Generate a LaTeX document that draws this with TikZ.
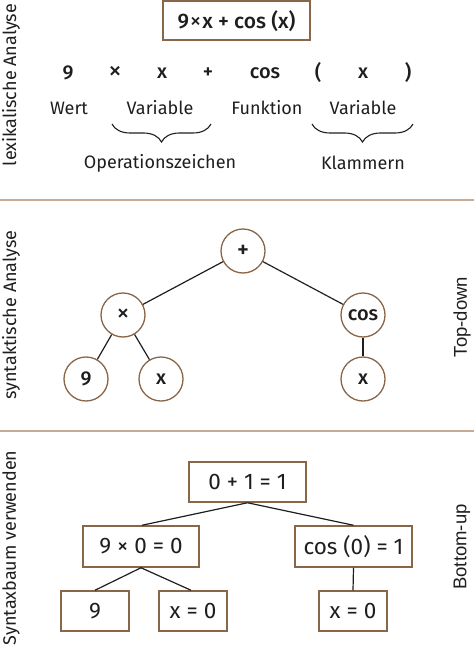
\documentclass[tikz,border=0pt]{standalone}
\usepackage{fontspec}
\setmainfont{Fira Sans}
\newfontfamily\medfont{Fira Sans Medium}
\newfontfamily\arialfont{Liberation Sans}
\newcommand{\mytimes}[1]{{\fontspec{Fira Sans}\fontsize{#1}{#1}\selectfont×}}
\usetikzlibrary{decorations.pathreplacing}
\definecolor{brn}{HTML}{8A6648}
\definecolor{sepc}{HTML}{C9AA93}
\definecolor{txt}{HTML}{1E1E1E}
\tikzset{
  tok/.style={font=\medfont\fontsize{20}{22}\selectfont, text=txt, inner sep=0pt},
  lbl/.style={font=\fontsize{18}{20}\selectfont, text=txt, inner sep=0pt},
  side/.style={font=\fontsize{18}{20}\selectfont, text=txt, rotate=90, inner sep=0pt},
  rside/.style={font=\arialfont\fontsize{18.5}{20}\selectfont, text=txt, rotate=90, inner sep=0pt},
  circ/.style={circle, draw=brn, line width=1.3pt, minimum size=44pt, inner sep=0pt, fill=white, font=\medfont\fontsize{20}{22}\selectfont, text=txt},
  rbox/.style={rectangle, draw=brn, line width=1.5pt, inner sep=0pt, fill=white, font=\fontsize{22.5}{24}\selectfont, text=txt},
  edge/.style={line width=1.2pt, draw=txt},
  sep/.style={line width=2pt, draw=sepc},
  brace/.style={decorate, decoration={brace, mirror, amplitude=18pt}, line width=1.1pt, draw=txt}
}
\begin{document}
\begin{tikzpicture}[x=1pt,y=-1pt]
\useasboundingbox (0,0) rectangle (474,647);
% separators
\draw[sep] (0,199.5) coordinate (s1a) -- (474,199.5) coordinate (s1b);
\draw[sep] (0,431) coordinate (s2a) -- (474,431) coordinate (s2b);
% side labels
\node[side] (L1) at (11,85) {lexikalische Analyse};
\node[side] (L2) at (11,315) {syntaktische Analyse};
\node[side] (L3) at (11,548) {Syntaxbaum verwenden};
\node[rside] (R2) at (462,317) {Top-down};
\node[rside] (R3) at (462,547) {Bottom-up};
% section 1
\node[rbox, minimum width=147pt, minimum height=39pt, line width=2pt, font=\medfont\fontsize{21}{23}\selectfont] (expr) at (236.5,21) {9\kern1pt\mytimes{23}\kern1ptx + cos (x)};
\node[tok] (t1) at (68,73) {9};
\node[tok] (t2) at (115,73) {\mytimes{27}};
\node[tok] (t3) at (162,73) {x};
\node[tok] (t4) at (208,73) {+};
\node[tok] (t5) at (265,73) {cos};
\node[tok] (t6) at (318,73) {(};
\node[tok] (t7) at (363,73) {x};
\node[tok] (t8) at (408,73) {)};
\node[lbl] (w1) at (69,108) {Wert};
\node[lbl] (w2) at (160,108) {Variable};
\node[lbl] (w3) at (267,108) {Funktion};
\node[lbl] (w4) at (363,108) {Variable};
\coordinate (b1a) at (112,124);
\coordinate (b1b) at (211,124);
\coordinate (b2a) at (312,124);
\coordinate (b2b) at (413,124);
\draw[brace] (b1a) -- (b1b);
\draw[brace] (b2a) -- (b2b);
\node[lbl] (o1) at (160,163) {Operationszeichen};
\node[lbl] (o2) at (363,163) {Klammern};
% section 2
\node[circ, font=\medfont\fontsize{23}{24}\selectfont] (plus) at (243,251) {+};
\node[circ] (times) at (123,315) {\mytimes{26}};
\node[circ] (cos) at (363,315) {cos};
\node[circ] (nine) at (86,379) {9};
\node[circ] (xa) at (161,379) {x};
\node[circ] (xb) at (363,379) {x};
\draw[edge] (plus) -- (times);
\draw[edge] (plus) -- (cos);
\draw[edge] (times) -- (nine);
\draw[edge] (times) -- (xa);
\draw[edge] (cos) -- (xb);
% section 3
\node[rbox, minimum width=117pt, minimum height=40pt] (r0) at (247.5,482) {0 + 1 = 1};
\node[rbox, minimum width=116pt, minimum height=41pt] (r1) at (141,546.5) {9 × 0 = 0};
\node[rbox, minimum width=117pt, minimum height=41pt] (r2) at (353.5,546.5) {cos (0) = 1};
\node[rbox, minimum width=68pt, minimum height=40pt] (r3) at (95,611) {9};
\node[rbox, minimum width=68pt, minimum height=40pt] (r4) at (193,611) {x = 0};
\node[rbox, minimum width=68pt, minimum height=40pt] (r5) at (353,611) {x = 0};
\draw[edge] (r0.south) -- ([xshift=1pt]r1.north);
\draw[edge] (r0.south) -- (r2.north);
\draw[edge] (r1.south) -- (r3.north);
\draw[edge] (r1.south) -- ([xshift=-2pt]r4.north);
\draw[edge] (r2.south) -- (r5.north);
\end{tikzpicture}
\end{document}
